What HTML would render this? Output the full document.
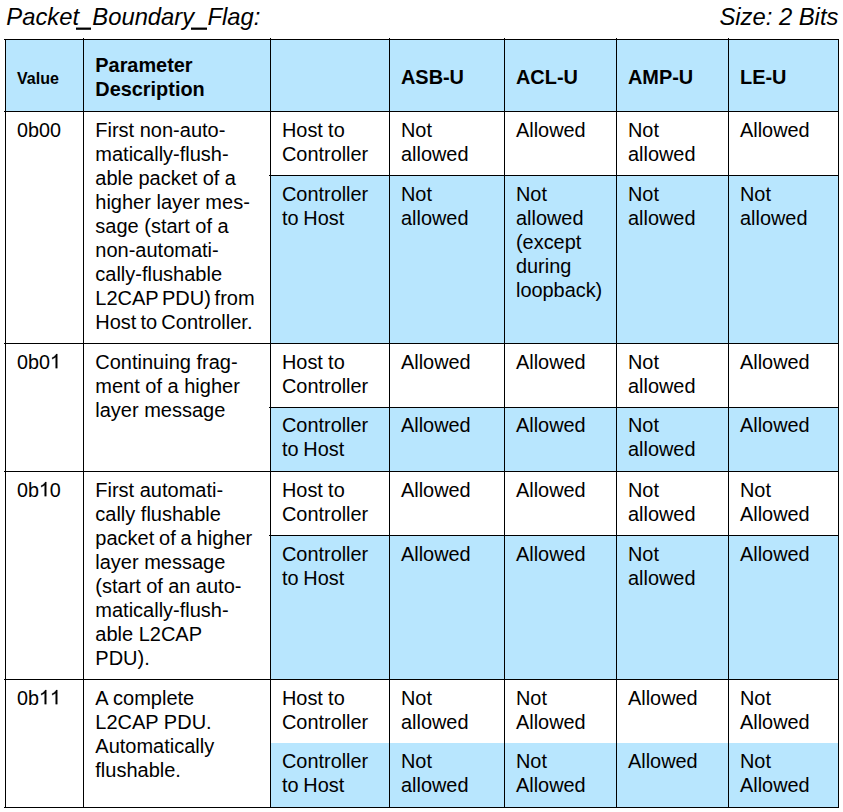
<!DOCTYPE html>
<html><head><meta charset="utf-8"><title>Packet_Boundary_Flag</title>
<style>
html,body{margin:0;padding:0;background:#fff;}
body{width:843px;height:812px;position:relative;overflow:hidden;font-family:"Liberation Sans",sans-serif;color:#000;}
.r{position:absolute;}
.t,.h,.hs,.ti{position:absolute;white-space:nowrap;}
.t{font-size:19.9px;line-height:24px;}
.d{font-size:20px;}
.v{font-size:19.75px;}
.one{width:0.55615em;height:0.71875em;vertical-align:0.45px;fill:#000;stroke:#000;stroke-width:25;display:inline-block;margin-left:-0.2px;overflow:visible;}
.us{display:inline-block;width:15.1px;height:3px;margin:0 0.92px 0 -2.78px;background:linear-gradient(to bottom,rgba(0,0,0,.45) 0 1px,#000 1px 2px,rgba(0,0,0,.8) 2px 3px);vertical-align:-4.8px;}
.h{font-size:19.9px;line-height:24px;font-weight:bold;}
.hs{font-size:16px;line-height:18px;font-weight:bold;}
.ti{font-size:23.8px;line-height:28px;font-style:italic;}
</style></head><body>
<div class="r" style="left:5px;top:39px;width:833px;height:72px;background:#b8e6fe"></div>
<div class="r" style="left:270px;top:175px;width:568px;height:168px;background:#b8e6fe"></div>
<div class="r" style="left:270px;top:407px;width:568px;height:64px;background:#b8e6fe"></div>
<div class="r" style="left:270px;top:535px;width:568px;height:144px;background:#b8e6fe"></div>
<div class="r" style="left:270px;top:743px;width:568px;height:64px;background:#b8e6fe"></div>
<div class="r" style="left:5px;top:39px;width:1px;height:769px;background:#000"></div>
<div class="r" style="left:83px;top:38px;width:1px;height:770px;background:#000"></div>
<div class="r" style="left:270px;top:38px;width:1px;height:770px;background:#000"></div>
<div class="r" style="left:389px;top:38px;width:1px;height:770px;background:#000"></div>
<div class="r" style="left:504px;top:38px;width:1px;height:770px;background:#000"></div>
<div class="r" style="left:616px;top:38px;width:1px;height:770px;background:#000"></div>
<div class="r" style="left:728px;top:38px;width:1px;height:770px;background:#000"></div>
<div class="r" style="left:838px;top:39px;width:1px;height:769px;background:#000"></div>
<div class="r" style="left:4px;top:39px;width:835px;height:1px;background:#000"></div>
<div class="r" style="left:4px;top:111px;width:835px;height:1px;background:#000"></div>
<div class="r" style="left:4px;top:343px;width:835px;height:1px;background:#000"></div>
<div class="r" style="left:4px;top:471px;width:835px;height:1px;background:#000"></div>
<div class="r" style="left:4px;top:679px;width:835px;height:1px;background:#000"></div>
<div class="r" style="left:4px;top:807px;width:835px;height:1px;background:#000"></div>
<div class="r" style="left:269px;top:175px;width:569px;height:1px;background:#000"></div>
<div class="r" style="left:269px;top:407px;width:569px;height:1px;background:#000"></div>
<div class="r" style="left:269px;top:535px;width:569px;height:1px;background:#000"></div>
<div class="ti" style="left:6.3px;top:3px;">Packet<span class="us"></span>Boundary<span class="us"></span>Flag:</div>
<div class="ti" style="right:4.6px;top:3px;">Size: 2 Bits</div>
<div class="hs" style="left:17px;top:70.4px;">Value</div>
<div class="h" style="left:95.3px;top:53px;">Parameter<br>Description</div>
<div class="h" style="left:401px;top:65px;">ASB-U</div>
<div class="h" style="left:516px;top:65px;">ACL-U</div>
<div class="h" style="left:628px;top:65px;">AMP-U</div>
<div class="h" style="left:740px;top:65px;">LE-U</div>
<div class="t v" style="left:17px;top:118px;">0b00</div>
<div class="t d" style="left:95.3px;top:118px;">First non-auto-<br>matically-flush-<br><span style="word-spacing:-0.2px">able packet of a</span><br>higher layer mes-<br>sage (start of a<br>non-automati-<br>cally-flushable<br><span style="word-spacing:-1.85px">L2CAP PDU) from</span><br><span style="word-spacing:-1.45px">Host to Controller.</span></div>
<div class="t" style="left:282px;top:118px;"><span style="word-spacing:-0.3px">Host to</span><br>Controller</div>
<div class="t" style="left:282px;top:182px;">Controller<br><span style="word-spacing:-0.8px">to Host</span></div>
<div class="t" style="left:401px;top:118px;">Not<br>allowed</div>
<div class="t" style="left:401px;top:182px;">Not<br>allowed</div>
<div class="t" style="left:516px;top:118px;">Allowed</div>
<div class="t" style="left:516px;top:182px;">Not<br>allowed<br>(except<br>during<br>loopback)</div>
<div class="t" style="left:628px;top:118px;">Not<br>allowed</div>
<div class="t" style="left:628px;top:182px;">Not<br>allowed</div>
<div class="t" style="left:740px;top:118px;">Allowed</div>
<div class="t" style="left:740px;top:182px;">Not<br>allowed</div>
<div class="t v" style="left:17px;top:350px;">0b0<svg class="one" viewBox="0 -1472 1139 1472"><path transform="scale(1,-1)" d="M763 0H583V1147Q518 1085 412.5 1023T223 930V1104Q374 1175 487 1276T647 1472H763Z"/></svg></div>
<div class="t d" style="left:95.3px;top:350px;">Continuing frag-<br>ment of a higher<br>layer message</div>
<div class="t" style="left:282px;top:350px;"><span style="word-spacing:-0.3px">Host to</span><br>Controller</div>
<div class="t" style="left:282px;top:413px;">Controller<br><span style="word-spacing:-0.8px">to Host</span></div>
<div class="t" style="left:401px;top:350px;">Allowed</div>
<div class="t" style="left:401px;top:413px;">Allowed</div>
<div class="t" style="left:516px;top:350px;">Allowed</div>
<div class="t" style="left:516px;top:413px;">Allowed</div>
<div class="t" style="left:628px;top:350px;">Not<br>allowed</div>
<div class="t" style="left:628px;top:413px;">Not<br>allowed</div>
<div class="t" style="left:740px;top:350px;">Allowed</div>
<div class="t" style="left:740px;top:413px;">Allowed</div>
<div class="t v" style="left:17px;top:478px;">0b<svg class="one" viewBox="0 -1472 1139 1472"><path transform="scale(1,-1)" d="M763 0H583V1147Q518 1085 412.5 1023T223 930V1104Q374 1175 487 1276T647 1472H763Z"/></svg>0</div>
<div class="t d" style="left:95.3px;top:478px;">First automati-<br>cally flushable<br><span style="word-spacing:-0.7px">packet of a higher</span><br>layer message<br><span style="word-spacing:-0.2px">(start of an auto-</span><br>matically-flush-<br>able L2CAP<br>PDU).</div>
<div class="t" style="left:282px;top:478px;"><span style="word-spacing:-0.3px">Host to</span><br>Controller</div>
<div class="t" style="left:282px;top:542px;">Controller<br><span style="word-spacing:-0.8px">to Host</span></div>
<div class="t" style="left:401px;top:478px;">Allowed</div>
<div class="t" style="left:401px;top:542px;">Allowed</div>
<div class="t" style="left:516px;top:478px;">Allowed</div>
<div class="t" style="left:516px;top:542px;">Allowed</div>
<div class="t" style="left:628px;top:478px;">Not<br>allowed</div>
<div class="t" style="left:628px;top:542px;">Not<br>allowed</div>
<div class="t" style="left:740px;top:478px;">Not<br>Allowed</div>
<div class="t" style="left:740px;top:542px;">Allowed</div>
<div class="t v" style="left:17px;top:686px;">0b<svg class="one" viewBox="0 -1472 1139 1472"><path transform="scale(1,-1)" d="M763 0H583V1147Q518 1085 412.5 1023T223 930V1104Q374 1175 487 1276T647 1472H763Z"/></svg><svg class="one" viewBox="0 -1472 1139 1472"><path transform="scale(1,-1)" d="M763 0H583V1147Q518 1085 412.5 1023T223 930V1104Q374 1175 487 1276T647 1472H763Z"/></svg></div>
<div class="t d" style="left:95.3px;top:686px;">A complete<br>L2CAP PDU.<br>Automatically<br>flushable.</div>
<div class="t" style="left:282px;top:686px;"><span style="word-spacing:-0.3px">Host to</span><br>Controller</div>
<div class="t" style="left:282px;top:749px;">Controller<br><span style="word-spacing:-0.8px">to Host</span></div>
<div class="t" style="left:401px;top:686px;">Not<br>allowed</div>
<div class="t" style="left:401px;top:749px;">Not<br>allowed</div>
<div class="t" style="left:516px;top:686px;">Not<br>Allowed</div>
<div class="t" style="left:516px;top:749px;">Not<br>Allowed</div>
<div class="t" style="left:628px;top:686px;">Allowed</div>
<div class="t" style="left:628px;top:749px;">Allowed</div>
<div class="t" style="left:740px;top:686px;">Not<br>Allowed</div>
<div class="t" style="left:740px;top:749px;">Not<br>Allowed</div>
</body></html>
